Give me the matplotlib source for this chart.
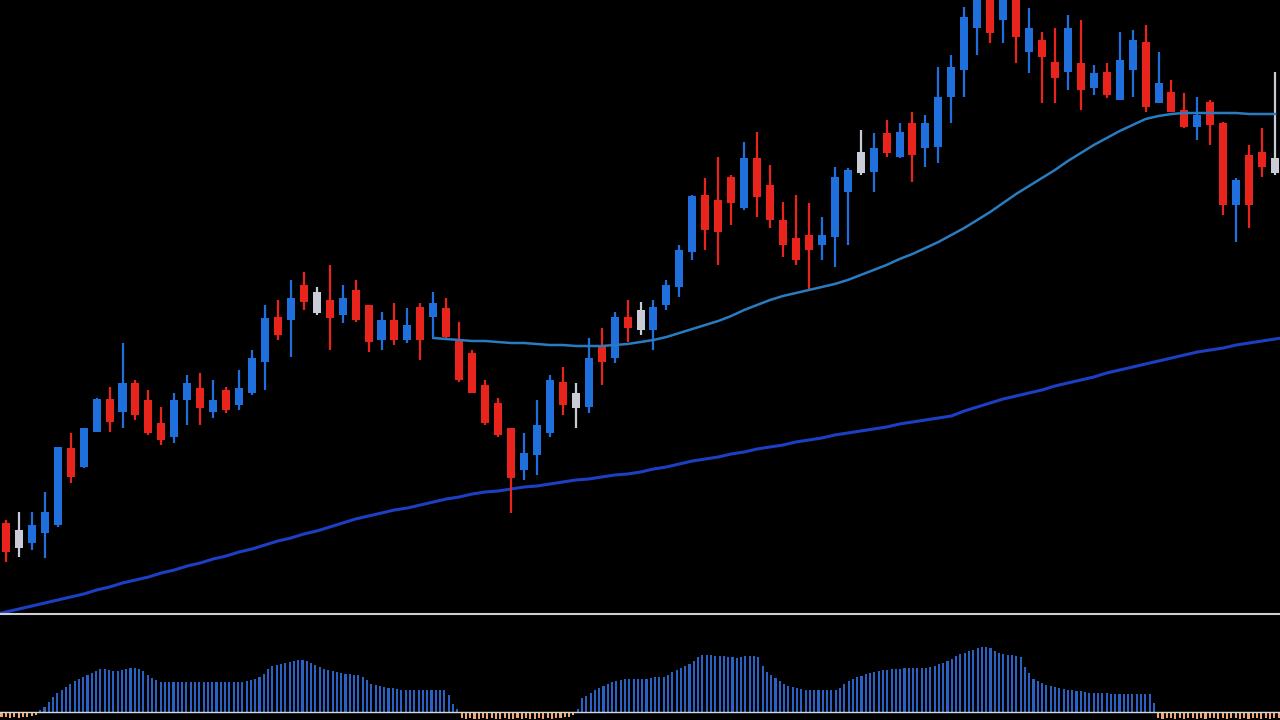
import matplotlib
matplotlib.use("Agg")
import matplotlib.pyplot as plt
from matplotlib.lines import Line2D
import numpy as np

# --- candle data (99 bars, arbitrary price units) ---
opens = [90, 65, 70, 80, 88, 165, 146, 181, 214, 201,
         230, 213, 190, 176, 213, 225, 201, 223, 208, 220,
         251, 296, 293, 328, 300, 313, 298, 323, 308, 273,
         293, 273, 306, 296, 305, 273, 260, 228, 210, 185,
         143, 158, 180, 231, 205, 206, 268, 255, 296, 283,
         283, 308, 326, 361, 418, 413, 436, 405, 455, 428,
         393, 375, 378, 368, 376, 421, 440, 441, 480, 456,
         490, 465, 466, 516, 543, 585, 613, 593, 613, 561,
         573, 551, 541, 550, 525, 541, 513, 543, 571, 510,
         521, 503, 486, 511, 490, 408, 458, 461, 440]
closes = [61, 83, 88, 101, 166, 136, 185, 214, 191, 230,
          198, 180, 173, 213, 230, 205, 213, 203, 225, 255,
          295, 278, 315, 311, 321, 295, 315, 293, 271, 293,
          273, 288, 273, 310, 276, 233, 220, 190, 178, 135,
          160, 188, 233, 208, 220, 255, 251, 296, 285, 303,
          306, 328, 363, 417, 383, 381, 410, 455, 416, 393,
          368, 353, 363, 378, 436, 443, 461, 465, 460, 481,
          458, 490, 516, 546, 596, 613, 580, 613, 576, 585,
          556, 535, 585, 523, 540, 518, 553, 573, 506, 530,
          501, 486, 498, 488, 408, 433, 408, 446, 455]
highs = [93, 101, 101, 121, 166, 180, 185, 215, 226, 270,
         233, 223, 206, 220, 238, 240, 233, 226, 243, 263,
         308, 313, 333, 341, 326, 348, 328, 333, 308, 301,
         310, 305, 310, 321, 315, 291, 263, 233, 215, 185,
         180, 213, 238, 246, 230, 275, 285, 301, 313, 311,
         313, 333, 368, 418, 435, 456, 438, 471, 481, 448,
         411, 418, 410, 396, 446, 445, 483, 480, 493, 490,
         501, 498, 546, 558, 606, 618, 618, 618, 618, 605,
         581, 585, 598, 593, 548, 550, 581, 583, 588, 561,
         533, 520, 516, 513, 491, 435, 468, 485, 541]
lows = [51, 56, 63, 55, 86, 130, 145, 181, 181, 185,
        193, 178, 168, 170, 188, 188, 195, 200, 203, 218,
        223, 273, 256, 303, 298, 263, 290, 291, 261, 263,
        268, 270, 253, 276, 275, 231, 220, 188, 176, 100,
        133, 138, 176, 198, 185, 200, 228, 250, 271, 278,
        263, 303, 316, 353, 363, 348, 388, 403, 396, 385,
        356, 348, 323, 353, 346, 368, 438, 421, 456, 455,
        431, 446, 450, 490, 516, 558, 570, 570, 550, 540,
        510, 510, 523, 503, 518, 515, 513, 516, 501, 510,
        501, 485, 473, 468, 398, 371, 385, 436, 438]
# bars the indicator paints neutral (grey)
neutral_bars = [1, 24, 44, 49, 66, 98]

# --- moving averages ---
ma_fast_start = 33
ma_fast = [275, 274, 273, 272, 272, 271, 270, 270, 269, 268,
           268, 267, 267, 267, 268, 269, 271, 273, 276, 280,
           284, 288, 292, 297, 303, 308, 313, 317, 320, 323,
           326, 329, 333, 338, 343, 348, 354, 359, 365, 371,
           378, 385, 393, 401, 410, 419, 427, 435, 443, 452,
           460, 468, 475, 482, 488, 494, 497, 499, 500, 500,
           500, 500, 500, 499, 499, 499]
ma_slow_start = -1
ma_slow = [-2,
           1, 4, 7, 10, 13, 16, 19, 23, 26, 30,
           33, 36, 40, 43, 47, 50, 54, 57, 61, 64,
           68, 72, 75, 79, 82, 86, 90, 94, 97, 100,
           103, 105, 108, 111, 114, 116, 119, 121, 122, 124,
           126, 127, 129, 131, 133, 134, 136, 138, 139, 141,
           144, 146, 149, 152, 154, 156, 159, 161, 164, 166,
           168, 171, 173, 175, 178, 180, 182, 184, 186, 189,
           191, 193, 195, 197, 202, 206, 210, 214, 217, 220,
           223, 227, 230, 233, 236, 240, 243, 246, 249, 252,
           255, 258, 261, 263, 265, 268, 270, 272, 274,
           276]

# --- oscillator histogram (lower pane) ---
osc = [-5, -5, -6, -5, -6, -5, -5, -4, -3,
       2, 5, 10, 15, 19, 22, 25, 28, 31, 33, 35, 37, 39, 41, 43,
       43, 42, 41, 41, 42, 43, 44, 44, 43, 41, 37, 34, 32, 30, 30,
       30, 30, 30, 30, 30, 30, 30, 30, 30, 30, 30, 30, 30, 30, 30, 30, 30, 30,
       31, 32, 33, 35, 38, 43, 46, 47, 48, 49, 50, 51, 52, 52,
       51, 49, 47, 45, 43, 42, 41, 40, 39, 38, 38, 37, 37, 35, 32, 28, 27, 26,
       25, 24, 24, 23,
       22, 22, 22, 22, 22, 22, 22, 22, 22, 22, 22,
       17, 8, 3,
       -6, -7, -6, -7, -7, -6, -7, -6, -7, -7, -6, -7, -7, -6, -7, -6, -7,
       -7, -6, -7, -6, -7, -6, -6, -5, -5,
       -3, 3,
       14, 16, 19, 22, 24, 26, 28, 30, 31, 32, 33, 33, 33, 33, 33, 33,
       34, 35, 35, 35, 37, 40, 42, 44, 46, 48, 51, 55, 57, 57, 57, 56, 56, 56,
       55, 55, 54, 55, 56, 56, 56, 55,
       46, 40, 37, 34, 31, 28, 26, 25, 24, 23, 22, 22, 22, 22, 22, 22, 22, 22,
       24, 28, 31, 33, 35, 36, 38, 39, 40, 41, 42, 42, 43, 43, 43, 44, 44, 44,
       44, 44, 44, 45, 46, 48, 49, 51, 53, 56, 58, 59, 61, 62, 64, 65, 65, 64,
       61, 59, 58, 57, 57, 56, 55,
       45, 39, 33, 31, 29, 27, 26, 25, 24, 23, 22, 22, 21, 21, 20, 19, 19, 19,
       19, 19, 18, 18, 18, 18, 18, 18, 18, 18, 18, 18, 9,
       -6, -7, -6, -6, -7, -6, -7, -6, -6, -7, -6, -7, -6, -6, -7, -6, -7, -6,
       -6, -7, -6, -7, -6, -6, -7, -6, -7, -6, -6]

UP = '#1f6fdc'
DOWN = '#e8241c'
NEUTRAL = '#c9cbd6'

fig = plt.figure(figsize=(12.8, 7.2), dpi=100, facecolor='black')
ax = fig.add_axes([0, 107 / 720, 1, 613 / 720], facecolor='black')
axh = fig.add_axes([0, 0, 1, 106 / 720], facecolor='black')

idx = np.arange(len(opens))
o = np.array(opens)
c = np.array(closes)
colors = [NEUTRAL if i in neutral_bars else (UP if c[i] >= o[i] else DOWN) for i in idx]

ax.vlines(idx, lows, highs, colors=colors, linewidth=1.6, zorder=2)
bottom = np.minimum(o, c)
height = np.maximum(np.abs(c - o), 2)
ax.bar(idx, height, bottom=bottom, width=0.62, color=colors, linewidth=0, zorder=3)

ax.plot(np.arange(len(ma_slow)) + ma_slow_start, ma_slow, color='#1c3fc4', linewidth=2.2, zorder=1)
ax.plot(np.arange(len(ma_fast)) + ma_fast_start, ma_fast, color='#2a7cc0', linewidth=1.8, zorder=4)

ax.set_xlim(-0.46, 98.38)
ax.set_ylim(0, 613)
ax.axis('off')

# lower pane
k = np.arange(len(osc))
osc_arr = np.array(osc)
hcol = np.where(osc_arr >= 0, '#2a62c4', '#f2a774')
axh.bar(k, osc_arr, width=0.5, color=hcol, linewidth=0)
axh.axhline(0, color='#d8d8d8', linewidth=1.0)
axh.set_xlim(-0.35, 297.33)
axh.set_ylim(-8, 98)
axh.axis('off')

fig.add_artist(Line2D([0, 1], [106.5 / 720, 106.5 / 720], transform=fig.transFigure,
                      color='#d0d0d0', linewidth=1.5))

fig.savefig('out.png', dpi=100, facecolor='black')
